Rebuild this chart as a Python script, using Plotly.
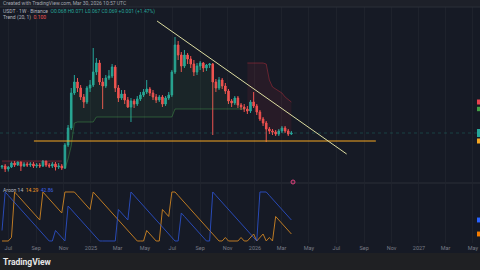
import plotly.graph_objects as go
import pandas as pd

# ---------------- data ----------------
weeks = pd.date_range("2024-06-17", periods=93, freq="7D")

open_ = [0.035,0.036,0.033,0.035,0.039,0.037,0.040,0.036,0.038,0.037,
         0.038,0.036,0.037,0.036,0.041,0.037,0.036,0.038,0.035,0.036,
         0.034,0.057,0.074,0.109,0.120,0.114,0.105,0.100,0.114,0.117,
         0.130,0.139,0.120,0.116,0.124,0.126,0.135,0.114,0.104,0.108,
         0.102,0.095,0.101,0.098,0.103,0.107,0.110,0.113,0.109,0.105,
         0.102,0.105,0.098,0.104,0.107,0.130,0.157,0.147,0.136,0.147,
         0.143,0.138,0.130,0.136,0.139,0.134,0.137,0.138,0.120,0.114,
         0.122,0.116,0.111,0.101,0.099,0.104,0.097,0.095,0.093,0.091,
         0.100,0.096,0.090,0.083,0.079,0.073,0.071,0.070,0.068,0.071,
         0.074,0.071,0.068]
close = [0.036,0.033,0.035,0.039,0.037,0.040,0.036,0.038,0.037,0.038,
         0.036,0.037,0.036,0.041,0.037,0.036,0.038,0.035,0.036,0.034,
         0.057,0.074,0.109,0.120,0.114,0.105,0.100,0.114,0.117,0.130,
         0.139,0.120,0.116,0.124,0.126,0.135,0.114,0.104,0.108,0.102,
         0.095,0.101,0.098,0.103,0.107,0.110,0.113,0.109,0.105,0.102,
         0.105,0.098,0.104,0.107,0.130,0.157,0.147,0.136,0.147,0.143,
         0.138,0.130,0.136,0.139,0.134,0.137,0.138,0.120,0.114,0.122,
         0.116,0.111,0.101,0.099,0.104,0.097,0.095,0.093,0.091,0.100,
         0.096,0.090,0.083,0.079,0.073,0.071,0.070,0.068,0.071,0.074,
         0.071,0.068,0.069]
high = [0.037,0.038,0.036,0.0405,0.041,0.0405,0.0405,0.040,0.040,0.040,
        0.040,0.039,0.039,0.042,0.041,0.039,0.040,0.040,0.039,0.038,
        0.059,0.077,0.114,0.127,0.124,0.117,0.108,0.116,0.122,0.154,
        0.144,0.142,0.124,0.127,0.132,0.138,0.137,0.117,0.112,0.112,
        0.105,0.104,0.103,0.106,0.110,0.113,0.122,0.115,0.112,0.108,
        0.107,0.107,0.106,0.110,0.132,0.165,0.161,0.150,0.152,0.149,
        0.146,0.142,0.139,0.141,0.140,0.138,0.139,0.139,0.123,0.125,
        0.124,0.119,0.113,0.103,0.106,0.106,0.099,0.098,0.096,0.102,
        0.110,0.098,0.092,0.085,0.081,0.075,0.073,0.072,0.073,0.076,
        0.076,0.073,0.071]
low = [0.033,0.030,0.0305,0.034,0.035,0.036,0.031,0.035,0.035,0.035,
       0.034,0.034,0.034,0.035,0.035,0.034,0.034,0.0315,0.033,0.032,
       0.033,0.055,0.072,0.107,0.110,0.102,0.094,0.098,0.110,0.115,
       0.127,0.117,0.093,0.114,0.122,0.124,0.110,0.100,0.102,0.098,
       0.094,0.080,0.094,0.096,0.101,0.105,0.108,0.106,0.102,0.099,
       0.100,0.095,0.096,0.102,0.105,0.128,0.142,0.130,0.134,0.138,
       0.134,0.126,0.127,0.132,0.130,0.131,0.134,0.067,0.110,0.112,
       0.113,0.108,0.098,0.095,0.097,0.094,0.092,0.090,0.088,0.089,
       0.094,0.087,0.081,0.076,0.060,0.068,0.067,0.066,0.066,0.069,
       0.069,0.066,0.067]

# trailing stop (bullish below price / bearish above price)
green_stop = [None]*20 + [
    0.033,0.043,0.056,0.079,0.080,0.080,0.080,0.080,0.080,0.080,
    0.085,0.085,0.085,0.085,0.085,0.085,0.085,0.085,0.085,0.085,
    0.085,0.085,0.085,0.085,0.085,0.085,0.085,0.085,0.085,0.085,
    0.085,0.085,0.085,0.085,0.085,0.093,0.093,0.093,0.093,0.093,
    0.093,0.093,0.093,0.093,0.093,0.093,0.093,0.093,0.093,0.093,
    0.093,0.093,0.093,0.093,0.093,0.093,0.093,0.093] + [None]*15
red_stop = [0.041,0.041,0.041,0.041,0.041,0.041,0.041,0.041,0.041,0.041,
            0.041,0.041,0.041,0.041,0.041,0.041,0.041,0.041,0.041,0.041] + [None]*58 + [
            0.139,0.139,0.139,0.139,0.139,0.139,0.138,0.122,0.115,0.113,
            0.111,0.109,0.105,0.102,0.100]

aroon_up = [0,0,0,7.14,100,92.86,85.71,78.57,71.43,64.29,
            57.14,50,42.86,100,92.86,85.71,78.57,71.43,64.29,57.14,
            100,100,100,100,92.86,85.71,78.57,71.43,64.29,100,
            92.86,85.71,78.57,71.43,64.29,57.14,50,42.86,35.71,28.57,
            21.43,14.29,7.14,0,0,0,21.43,14.29,7.14,0,
            0,64.29,57.14,50,100,100,92.86,85.71,78.57,71.43,
            64.29,57.14,50,42.86,35.71,28.57,21.43,14.29,7.14,0,
            0,7.14,0,0,0,0,7.14,0,0,7.14,
            14.29,0,7.14,14.29,0,7.14,0,50,42.86,35.71,
            28.57,21.43,14.29]
aroon_down = [21.43,100,92.86,85.71,78.57,71.43,64.29,57.14,50,42.86,
              35.71,28.57,21.43,14.29,7.14,0,0,21.43,14.29,7.14,
              0,71.43,64.29,57.14,50,42.86,35.71,28.57,21.43,14.29,
              7.14,0,0,0,0,0,0,64.29,57.14,50,
              42.86,100,92.86,85.71,78.57,71.43,64.29,57.14,50,42.86,
              35.71,28.57,21.43,14.29,7.14,0,0,57.14,50,42.86,
              35.71,28.57,21.43,14.29,7.14,0,0,100,92.86,85.71,
              78.57,71.43,64.29,57.14,50,42.86,35.71,28.57,21.43,14.29,
              7.14,0,100,100,100,92.86,85.71,78.57,71.43,64.29,
              57.14,50,42.86]

support_level = 0.061
support_dates = ["2024-08-27", "2026-09-27"]
trend_dates = ["2025-05-28", "2026-07-24"]
trend_prices = [0.181, 0.048]

tick_dates = ["2024-07-01","2024-09-01","2024-11-01","2025-01-01","2025-03-01","2025-05-01",
              "2025-07-01","2025-09-01","2025-11-01","2026-01-01","2026-03-01","2026-05-01",
              "2026-07-01","2026-09-01","2026-11-01","2027-01-01","2027-03-01","2027-05-01"]
tick_text = ["Jul","Sep","Nov","2025","Mar","May","Jul","Sep","Nov","2026","Mar","May",
             "Jul","Sep","Nov","2027","Mar","May"]

# ---------------- styling ----------------
W, H = 480, 270
BG = "#161a25"
UP, DOWN = "#26a69a", "#ef5350"
FONT = "Roboto"

def px(x):
    return x / W

def py(y):
    return 1 - y / H

fig = go.Figure()

def runs(stop):
    out, cur = [], []
    for i, v in enumerate(stop):
        if v is None:
            if cur:
                out.append(cur); cur = []
        else:
            cur.append(i)
    if cur:
        out.append(cur)
    return out

for stop, lc, fc in [(green_stop, "rgba(76,175,80,0.40)", "rgba(76,175,80,0.08)"),
                     (red_stop, "rgba(242,54,69,0.35)", "rgba(242,54,69,0.08)")]:
    for r in runs(stop):
        xs = [weeks[i] for i in r]
        fig.add_trace(go.Scatter(x=xs, y=[stop[i] for i in r], mode="lines",
                                 line=dict(color=lc, width=1), hoverinfo="skip",
                                 showlegend=False, xaxis="x", yaxis="y"))
        fig.add_trace(go.Scatter(x=xs, y=[close[i] for i in r], mode="lines",
                                 line=dict(width=0), fill="tonexty", fillcolor=fc,
                                 hoverinfo="skip", showlegend=False, xaxis="x", yaxis="y"))

fig.add_trace(go.Candlestick(
    x=weeks, open=open_, high=high, low=low, close=close,
    increasing=dict(line=dict(color=UP, width=1), fillcolor=UP),
    decreasing=dict(line=dict(color=DOWN, width=1), fillcolor=DOWN),
    whiskerwidth=0, showlegend=False, xaxis="x", yaxis="y"))

# drawings
fig.add_trace(go.Scatter(x=support_dates, y=[support_level, support_level], mode="lines",
                         line=dict(color="#f5a623", width=1), showlegend=False,
                         xaxis="x", yaxis="y"))
fig.add_trace(go.Scatter(x=trend_dates, y=trend_prices, mode="lines",
                         line=dict(color="#dcdca0", width=1), showlegend=False,
                         xaxis="x", yaxis="y"))

# Aroon
fig.add_trace(go.Scatter(x=weeks, y=aroon_up, mode="lines",
                         line=dict(color="#f59b23", width=1), opacity=0.75,
                         showlegend=False, xaxis="x2", yaxis="y2"))
fig.add_trace(go.Scatter(x=weeks, y=aroon_down, mode="lines",
                         line=dict(color="#2f5ae6", width=1), opacity=0.75,
                         showlegend=False, xaxis="x2", yaxis="y2"))

last_green = [v for v in green_stop if v is not None][-1]
shapes = [
    dict(type="rect", xref="paper", yref="paper", x0=0, x1=1, y0=py(7), y1=1,
         fillcolor="#1d2029", line=dict(width=0), layer="below"),
    dict(type="line", xref="paper", yref="paper", x0=0, x1=1, y0=py(7), y1=py(7),
         line=dict(color="#2a2e39", width=1)),
    dict(type="line", xref="paper", yref="paper", x0=0, x1=1, y0=py(183), y1=py(183),
         line=dict(color="#2a2e39", width=1)),
    dict(type="rect", xref="paper", yref="paper", x0=0, x1=1, y0=0, y1=py(253),
         fillcolor="#1f2023", line=dict(width=0)),
    dict(type="line", xref="paper", yref="y", x0=0, x1=1, y0=close[-1], y1=close[-1],
         line=dict(color="rgba(38,166,154,0.28)", width=1, dash="dot")),
]
for val, col, hh in [(red_stop[-1], "#e8434f", 0.0025), (last_green, "#43a047", 0.0022),
                     (close[-1], UP, 0.004), (support_level, "#f5a623", 0.0025)]:
    shapes.append(dict(type="rect", xref="paper", yref="y", x0=px(477), x1=1,
                       y0=val - hh, y1=val + hh, fillcolor=col, line=dict(width=0)))
for val, col in [(aroon_down[-1], "#2962ff"), (aroon_up[-1], "#f57c00")]:
    shapes.append(dict(type="rect", xref="paper", yref="y2", x0=px(477), x1=1,
                       y0=val - 5, y1=val + 5, fillcolor=col, line=dict(width=0)))
shapes.append(dict(type="circle", xref="paper", yref="paper",
                   x0=px(291), x1=px(295), y0=py(184), y1=py(180),
                   line=dict(color="#d8407a", width=1), fillcolor="rgba(216,64,122,0.2)"))

def ann(text, x, y, size=5, color="#9598a1", anchor="left", bold=False):
    return dict(text=("<b>%s</b>" % text) if bold else text, x=px(x), y=py(y),
                xref="paper", yref="paper", xanchor=anchor, yanchor="middle",
                showarrow=False, font=dict(family=FONT, size=size, color=color))

annotations = [
    ann("Created with TradingView.com, Mar 30, 2026 10:57 UTC", 1, 3.2, 5, "#a3a6af"),
    ann('<span style="color:#b2b5be">USDT · 1W · Binance</span>  '
        '<span style="color:#26a69a">O0.068 H0.071 L0.067 C0.069 +0.001 (+1.47%)</span>',
        1, 11.3, 5),
    ann('<span style="color:#b2b5be">Trend (20, 1)</span>  '
        '<span style="color:#ef5350">0.100</span>', 1, 17.2, 5),
    ann('<span style="color:#b2b5be">Aroon 14</span>  '
        '<span style="color:#f59b23">14.29</span>  '
        '<span style="color:#3d63e6">42.86</span>', 1, 190, 5),
    ann("TradingView", 1, 262, 8.5, "#e8e8e8", bold=True),
]

axis_common = dict(type="date", range=["2024-06-12 12:00", "2027-05-16 19:00"],
                   tickvals=tick_dates, ticktext=tick_text, showgrid=True,
                   gridcolor="rgba(255,255,255,0.035)", gridwidth=1, zeroline=False,
                   showline=False, ticks="", fixedrange=True)

fig.update_layout(
    width=W, height=H, margin=dict(l=0, r=0, t=0, b=0),
    paper_bgcolor=BG, plot_bgcolor=BG, showlegend=False,
    font=dict(family=FONT, size=5, color="#787b86"),
    xaxis=dict(domain=[0, 1], anchor="y", showticklabels=False,
               rangeslider=dict(visible=False), **axis_common),
    xaxis2=dict(domain=[0, 1], anchor="y2", matches="x", showticklabels=True,
                tickfont=dict(family=FONT, size=5.5, color="#787b86"), **axis_common),
    yaxis=dict(domain=[py(182), py(7)], range=[0.020, 0.195], showticklabels=False,
               showgrid=False, zeroline=False, fixedrange=True),
    yaxis2=dict(domain=[py(243), py(184)], range=[-4.1, 116.3], showticklabels=False,
                showgrid=False, zeroline=False, fixedrange=True),
    shapes=shapes, annotations=annotations,
)

fig.write_html("out.html")
